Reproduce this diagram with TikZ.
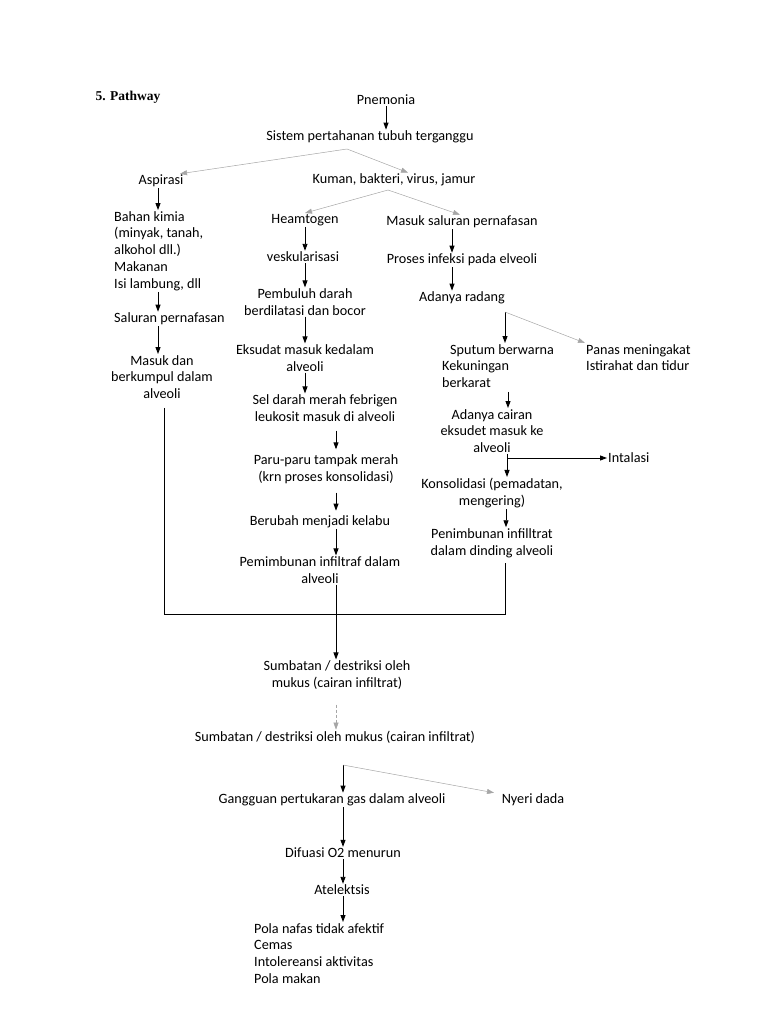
\documentclass[tikz,border=0pt]{standalone}
\usepackage{fontspec}
\setmainfont{Carlito}
\newfontfamily\titlefont{Liberation Serif}
\usetikzlibrary{calc,arrows.meta}
\begin{document}
\begin{tikzpicture}[x=1pt,y=-1pt,
        box/.style={inner sep=1pt,align=center,font=\fontsize{14.2}{16.8}\selectfont},
        lbox/.style={box,align=left,anchor=west},
        arr/.style={draw,line width=0.9pt,-{Triangle[length=7pt,width=5pt]}},
        garr/.style={draw,gray!70,line width=0.5pt,-{Triangle[length=7pt,width=5pt]},shorten >=0pt}
        ]
        \useasboundingbox (0,0) rectangle (768,1024);
        \node[font=\titlefont\bfseries\fontsize{13.5}{16}\selectfont,anchor=west] (title) at (92,97) {5. Pathway};
        % columns
        \coordinate (cA) at (158,0);
        \coordinate (cB) at (305,0);
        \coordinate (cC) at (336,0);
        \coordinate (cD) at (452,0);
        \coordinate (cE) at (506,0);
        \coordinate (cF) at (343,0);
        % top
        \node[box] (pne) at (386,100) {Pnemonia};
        \node[box] (sis) at (370,137) {Sistem pertahanan tubuh terganggu};
        \node[box] (asp) at (161,181) {Aspirasi};
        \node[box] (kum) at (394,180) {Kuman, bakteri, virus, jamur};
        \draw[arr] (pne) -- (sis.north -| pne);
        \coordinate (sisb) at (347,149);
        \draw[garr] (sisb) -- (asp.north -| 180,0);
        \draw[garr] (sisb) -- (kum.north -| 408,0);
        % left column
        \node[lbox] (bah) at (113,251) {Bahan kimia\\(minyak, tanah,\\alkohol dll.)\\Makanan\\Isi lambung, dll};
        \node[lbox] (sal) at (113,319) {Saluran pernafasan};
        \node[box] (mas) at (162,377) {Masuk dan\\berkumpul dalam\\alveoli};
        \draw[arr] (asp.south -| cA) -- (bah.north -| cA);
        \draw[arr] (bah.south -| cA) -- (sal.north -| cA);
        \draw[arr] (sal.south -| cA) -- (mas.north -| cA);
        % middle column
        \coordinate (kumb) at (388,190);
        \node[box] (hea) at (305,220) {Heamtogen};
        \node[box] (ves) at (303,257) {veskularisasi};
        \node[box] (pem) at (305,302) {Pembuluh darah\\berdilatasi dan bocor};
        \node[box] (eks) at (305,358) {Eksudat masuk kedalam\\alveoli};
        \node[box] (sel) at (325,408) {Sel darah merah febrigen\\leukosit masuk di alveoli};
        \node[box] (par) at (326,469) {Paru-paru tampak merah\\(krn proses konsolidasi)};
        \node[box] (ber) at (320,522) {Berubah menjadi kelabu};
        \node[box] (pim) at (320,570) {Pemimbunan infiltraf dalam\\alveoli};
        \draw[garr] (kumb) -- (hea.north -| 305,0);
        \draw[arr] (hea.south -| cB) -- (ves.north -| cB);
        \draw[arr] (ves.south -| cB) -- (pem.north -| cB);
        \draw[arr] (pem.south -| cB) -- (eks.north -| cB);
        \draw[arr] (eks.south -| cB) -- (sel.north -| cB);
        \draw[arr] ($(sel.south -| cC)+(0,8)$) -- ($(par.north -| cC)+(0,-4)$);
        \draw[arr] ($(par.south -| cC)+(0,8)$) -- ($(ber.north -| cC)+(0,-4)$);
        \draw[arr] (ber.south -| cC) -- (pim.north -| cC);
        % right column
        \node[box] (msp) at (462,222) {Masuk saluran pernafasan};
        \node[box] (pro) at (462,260) {Proses infeksi pada elveoli};
        \node[box] (ada) at (462,298) {Adanya radang};
        \node[box,align=left,anchor=north west] (spu) at (441,343) {\hspace{8pt}Sputum berwarna\\Kekuningan\\berkarat};
        \node[lbox,anchor=north west] (pan) at (585,343) {Panas meningakat\\Istirahat dan tidur};
        \node[box] (cai) at (492,431) {Adanya cairan\\eksudet masuk ke\\alveoli};
        \node[lbox] (int) at (607,458) {Intalasi};
        \node[box] (kon) at (492,493) {Konsolidasi (pemadatan,\\mengering)};
        \node[box] (pen) at (492,543) {Penimbunan infilltrat\\dalam dinding alveoli};
        \draw[garr] (kumb) -- (msp.north -| 460,0);
        \draw[arr] (msp.south -| cD) -- (pro.north -| cD);
        \draw[arr] (pro.south -| cD) -- (ada.north -| cD);
        \coordinate (adab) at (505,312);
        \draw[arr] (adab) -- (spu.north -| 505,0);
        \draw[garr] (adab) -- (pan.north -| 585,0);
        \draw[arr] ($(spu.south -| 508,0)+(0,3)$) -- (cai.north -| 508,0);
        \draw[arr] (cai.south -| 507,0) -- (kon.north -| 507,0);
        \draw[arr] (cai.south -| 507,0) |- (int.west);
        \draw[arr] (kon.south -| cE) -- (pen.north -| cE);
        % merge
        \node[box] (sum) at (337,675) {Sumbatan / destriksi oleh\\mukus (cairan infiltrat)};
        \draw[line width=0.9pt] ($(mas.south -| 164,0)+(0,8)$) -- (164,614) -- (505,614) -- ($(pen.south -| 505,0)+(0,4)$);
        \draw[arr] (pim.south -| cC) -- (sum.north -| cC);
        % bottom
        \node[box] (su2) at (335,737) {Sumbatan / destriksi oleh mukus (cairan infiltrat)};
        \node[box] (gan) at (332,800) {Gangguan pertukaran gas dalam alveoli};
        \node[box] (nye) at (533,800) {Nyeri dada};
        \node[box] (dif) at (343,853) {Difuasi O2 menurun};
        \node[box] (ate) at (342,890) {Atelektsis};
        \node[lbox,anchor=north west] (pol) at (253,922) {Pola nafas tidak afektif\\Cemas\\Intolereansi aktivitas\\Pola makan};
        \draw[garr,densely dashed] ($(sum.south -| cC)+(0,14)$) -- (su2.north -| cC);
        \coordinate (su2b) at (343,765);
        \draw[arr] (su2b) -- (gan.north -| cF);
        \draw[garr] (su2b) -- (nye.north -| 494,0);
        \draw[arr] (gan.south -| cF) -- (dif.north -| cF);
        \draw[arr] (dif.south -| cF) -- (ate.north -| cF);
        \draw[arr] (ate.south -| cF) -- (pol.north -| cF);
\end{tikzpicture}
\end{document}
